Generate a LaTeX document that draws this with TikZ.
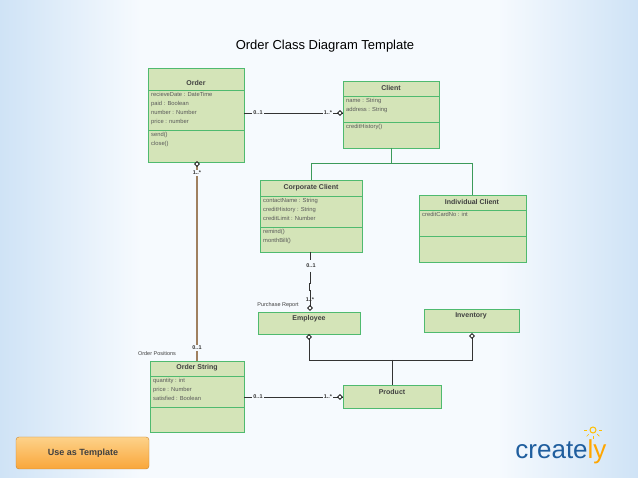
\documentclass[tikz,border=0pt]{standalone}
\usepackage{fontspec}
\setmainfont{Liberation Sans}
\usetikzlibrary{shapes.geometric,calc}
\begin{document}
\begin{tikzpicture}[x=1pt,y=-1pt,
  box/.style={draw=boxline,fill=boxfill,line width=0.8pt},
  ttl/.style={font=\fontsize{7}{8}\selectfont\bfseries,text=black!75},
  att/.style={font=\fontsize{5.8}{9}\selectfont,text=black!65,anchor=north west,align=left,inner sep=1pt},
  lbl/.style={font=\fontsize{5.5}{6}\selectfont\bfseries,text=black!80,inner sep=1pt},
  note/.style={font=\fontsize{5.5}{6}\selectfont,text=black!75,inner sep=1pt},
  con/.style={line width=0.9pt,draw=black!80},
  agg/.style={draw=black,fill=white,line width=0.7pt,diamond,inner sep=0pt,minimum size=5pt},
  gen/.style={line width=0.9pt,draw=genline}]
\definecolor{boxfill}{HTML}{D4E4B8}
\definecolor{boxline}{HTML}{4FBA6F}
\definecolor{genline}{HTML}{3C9A5A}
\definecolor{bgA}{HTML}{CFE3F6}
\definecolor{bgB}{HTML}{F6FAFE}
\definecolor{logoblue}{HTML}{1F5E9E}
\definecolor{btnA}{HTML}{FDD28A}
\definecolor{btnB}{HTML}{F9A63A}
\useasboundingbox (0,0) rectangle (638,478);
\fill[bgB] (0,0) rectangle (638,478);
\shade[left color=bgA,right color=bgB] (0,0) rectangle (140,478);
\shade[left color=bgB,right color=bgA] (498,0) rectangle (638,478);
\node[font=\fontsize{13}{15}\selectfont] (title) at (325,46) {Order Class Diagram Template};
% Order
\draw[box] (148,68) rectangle (244,162);
\draw[boxline,line width=0.8pt] (148,90)--(244,90) (148,130)--(244,130);
\node[ttl] (order) at (196,83) {Order};
\node[att] at (150,91) {recieveDate : DateTime\\paid : Boolean\\number : Number\\price : number};
\node[att] at (150,131) {send()\\close()};
% Client
\draw[box] (343,81) rectangle (439,148);
\draw[boxline,line width=0.8pt] (343,96)--(439,96) (343,122)--(439,122);
\node[ttl] (client) at (391,88) {Client};
\node[att] at (345,97) {name : String\\address : String};
\node[att] at (345,123) {creditHistory()};
% Corporate
\draw[box] (260,180) rectangle (362,252);
\draw[boxline,line width=0.8pt] (260,196)--(362,196) (260,227)--(362,227);
\node[ttl] (corp) at (311,188) {Corporate Client};
\node[att] at (262,197) {contactName : String\\creditHistory : String\\creditLimit : Number};
\node[att] at (262,228) {remind()\\monthBill()};
% Individual
\draw[box] (419,195) rectangle (526,262);
\draw[boxline,line width=0.8pt] (419,210)--(526,210) (419,236)--(526,236);
\node[ttl] (indiv) at (472,202) {Individual Client};
\node[att] at (421,211) {creditCardNo : int};
% Employee / Inventory
\draw[box] (258,312) rectangle (360,334);
\node[ttl] (emp) at (309,319) {Employee};
\draw[box] (424,309) rectangle (519,332);
\node[ttl] (inv) at (471,316) {Inventory};
% Order String
\draw[box] (150,361) rectangle (244,432);
\draw[boxline,line width=0.8pt] (150,376)--(244,376) (150,407)--(244,407);
\node[ttl] (ostr) at (197,368) {Order String};
\node[att] at (152,377) {quantity : int\\price : Number\\satisfied : Boolean};
% Product
\draw[box] (343,385) rectangle (441,408);
\node[ttl] (prod) at (392,392) {Product};
% connectors
\coordinate (oR) at (244,113); \coordinate (cL) at (343,113);
\draw[con] (oR) -- (cL);
\node[agg] (d1) at (340,113) {};
\node[lbl,fill=bgB] at (258,113) {0..1};
\node[lbl,fill=bgB] at (328,113) {1..*};
% generalization
\coordinate (cB) at (391,148); \coordinate (j1) at (391,163);
\coordinate (corpT) at (311,180); \coordinate (indT) at (472,195);
\draw[gen] (cB) -- (j1) (311,163) -- (472,163) (311,163) -- (corpT) (472,163) -- (indT);
% Order - Order String
\coordinate (oB) at (197,165); \coordinate (osT) at (197,361);
\draw[line width=1.2pt,draw=brown!50!gray] (oB) -- (osT);
\node[agg] (d2) at (197,164) {};
\node[lbl,fill=bgB] at (197,173) {1..*};
\node[lbl,fill=bgB] at (197,348) {0..1};
\node[note] at (157,354) {Order Positions};
% Corporate - Employee
\coordinate (cpB) at (310,252); \coordinate (eT) at (310,309);
\draw[con] (cpB) -- (310,260) (310,272) -- (310,283) -- (309,283) -- (309,290) -- (310,290) -- (eT);
\node[agg] (d3) at (310,308) {};
\node[lbl] at (311,266) {0..1};
\node[lbl] at (310,300) {1..*};
\node[note] at (278,305) {Purchase Report};
% Employee/Inventory - Product
\coordinate (eB) at (309,338); \coordinate (iB) at (472,336);
\coordinate (pT) at (392,385);
\draw[con] (eB) -- (309,360) -- (472,360) -- (iB) (392,360) -- (pT);
\node[agg] (d4) at (309,337) {};
\node[agg] (d5) at (472,336) {};
% Order String - Product
\coordinate (osR) at (244,397); \coordinate (pL) at (343,397);
\draw[con] (osR) -- (pL);
\node[agg] (d6) at (340,397) {};
\node[lbl,fill=bgB] at (258,397) {0..1};
\node[lbl,fill=bgB] at (328,397) {1..*};
% button
\shade[top color=btnA,bottom color=btnB,draw=btnB!80!black,rounded corners=3pt] (16,437) rectangle (149,469);
\node[font=\fontsize{9}{10}\selectfont\bfseries,text=black!75] (btn) at (83,453) {Use as Template};
% logo
\node[font=\fontsize{26}{28}\selectfont,text=logoblue,anchor=east] (logo) at (610,452) {create\textcolor{orange!70!yellow}{ly}};
\draw[orange!50!yellow,line width=1pt] (593,430) circle (3pt);
\foreach \a in {0,45,90,135,180} \draw[orange!50!yellow,line width=0.7pt] ($(593,430)+(\a:-6pt)$) -- ($(593,430)+(\a:-9pt)$);
\end{tikzpicture}
\end{document}
